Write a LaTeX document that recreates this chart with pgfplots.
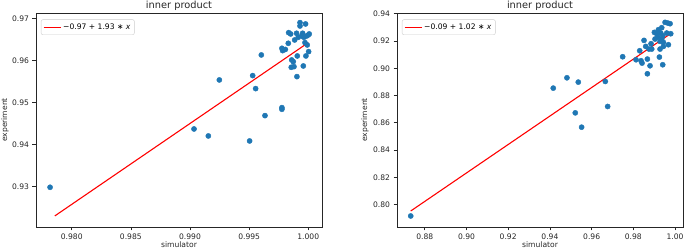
\documentclass[border=0pt]{standalone}
\usepackage{pgfplots}
\pgfplotsset{compat=1.18}
\usepackage{fontspec}
\setmainfont{DejaVu Sans}
\definecolor{mplblue}{HTML}{1F77B4}
\pgfplotsset{
  mystyle/.style={
    scale only axis, width=286pt, height=214pt,
    axis line style={line width=0.8pt, black!85},
    tick style={black!85, line width=0.6pt},
    tick align=outside, tick pos=left, major tick length=3.5pt,
    ticklabel style={font=\fontsize{7.6}{9}\selectfont, text=black!85},
    label style={font=\fontsize{7.6}{9}\selectfont, text=black!85},
    every axis title shift=0pt,
    title style={font=\fontsize{9.8}{11}\selectfont, text=black!85, inner sep=0pt, yshift=2.6pt},
    /pgf/number format/assume math mode=true,
    scaled ticks=false,
    legend style={at={(axis description cs:0.017,0.97)}, anchor=north west,
      draw=black!20, rounded corners=2pt, font=\fontsize{7.6}{9}\selectfont,
      inner sep=2pt, row sep=0pt},
    legend cell align=left,
    xlabel style={at={(axis description cs:0.5,-0.084)}, anchor=center},
    ylabel style={at={(axis description cs:-0.108,0.5)}, anchor=center},
    title={inner product}, xlabel={simulator}, ylabel={experiment},
    clip=false,
  }
}
\begin{document}
\begin{tikzpicture}
\path[use as bounding box] (-36pt,-24pt) rectangle (649pt,227pt);
\begin{axis}[mystyle,
  xmin=0.97698, xmax=1.00116, ymin=0.9204, ymax=0.97126,
  xtick={0.980,0.985,0.990,0.995,1.000},
  ytick={0.93,0.94,0.95,0.96,0.97},
  xticklabel style={/pgf/number format/.cd, fixed, fixed zerofill, precision=3},
  yticklabel style={/pgf/number format/.cd, fixed, fixed zerofill, precision=2},
]
\addplot[only marks, mark=*, mark size=2.6pt, color=mplblue, forget plot] coordinates {
(0.97817,0.92984) (0.99034,0.94370) (0.99155,0.94204) (0.99248,0.95535)
(0.99504,0.94085) (0.99530,0.95638) (0.99555,0.95329) (0.99603,0.96129)
(0.99634,0.94687) (0.99777,0.94877) (0.99777,0.94838) (0.99777,0.96287)
(0.99783,0.96232) (0.99806,0.96260) (0.99834,0.96659) (0.99831,0.96406)
(0.99851,0.96628) (0.99860,0.96010) (0.99856,0.95836) (0.99873,0.95970)
(0.99879,0.95851) (0.99885,0.96485) (0.99901,0.96644) (0.99907,0.96105)
(0.99904,0.95614) (0.99915,0.96549) (0.99930,0.96897) (0.99930,0.96818)
(0.99952,0.96644) (0.99958,0.95867) (0.99963,0.96549) (0.99972,0.96422)
(0.99977,0.96866) (0.99980,0.96105) (0.99986,0.96580) (0.99991,0.96366)
(1.00003,0.96208) (1.00000,0.96604) (1.00008,0.96628) (0.99944,0.96580)
};
\addplot[red, line width=1.1pt] coordinates {(0.97857,0.92303) (1.00000,0.96422)};
\addlegendentry{−0.97 + 1.93 ∗ \textit{x}}
\end{axis}
\begin{axis}[mystyle, xshift=361pt,
  xmin=0.8667, xmax=1.0038, ymin=0.7836, ymax=0.9405,
  xtick={0.88,0.90,0.92,0.94,0.96,0.98,1.00},
  ytick={0.80,0.82,0.84,0.86,0.88,0.90,0.92,0.94},
  xticklabel style={/pgf/number format/.cd, fixed, fixed zerofill, precision=2},
  yticklabel style={/pgf/number format/.cd, fixed, fixed zerofill, precision=2},
  ylabel style={at={(axis description cs:-0.112,0.5)}},
]
\addplot[only marks, mark=*, mark size=2.6pt, color=mplblue, forget plot] coordinates {
(0.87328,0.79168) (0.94160,0.88541) (0.94816,0.89300) (0.95216,0.86729)
(0.95360,0.88982) (0.95520,0.85677) (0.96656,0.89031) (0.96768,0.87195)
(0.97488,0.90842) (0.98128,0.90622) (0.98304,0.91283) (0.98368,0.90548)
(0.98416,0.90377) (0.98512,0.92042) (0.98592,0.91601) (0.98672,0.90671)
(0.98672,0.89594) (0.98752,0.91405) (0.98800,0.90180) (0.98848,0.91797)
(0.98880,0.91405) (0.99008,0.92629) (0.99040,0.92140) (0.99120,0.92531)
(0.99168,0.92286) (0.99200,0.92825) (0.99248,0.90818) (0.99280,0.91405)
(0.99312,0.92580) (0.99360,0.92972) (0.99360,0.92140) (0.99408,0.90255)
(0.99440,0.91601) (0.99440,0.91895) (0.99520,0.93364) (0.99600,0.92580)
(0.99648,0.93315) (0.99680,0.91724) (0.99760,0.93266) (0.99792,0.92531)
(0.99408,0.92384) (0.99280,0.91968)
};
\addplot[red, line width=1.1pt] coordinates {(0.87328,0.79533) (0.99760,0.92507)};
\addlegendentry{−0.09 + 1.02 ∗ \textit{x}}
\end{axis}
\end{tikzpicture}
\end{document}
